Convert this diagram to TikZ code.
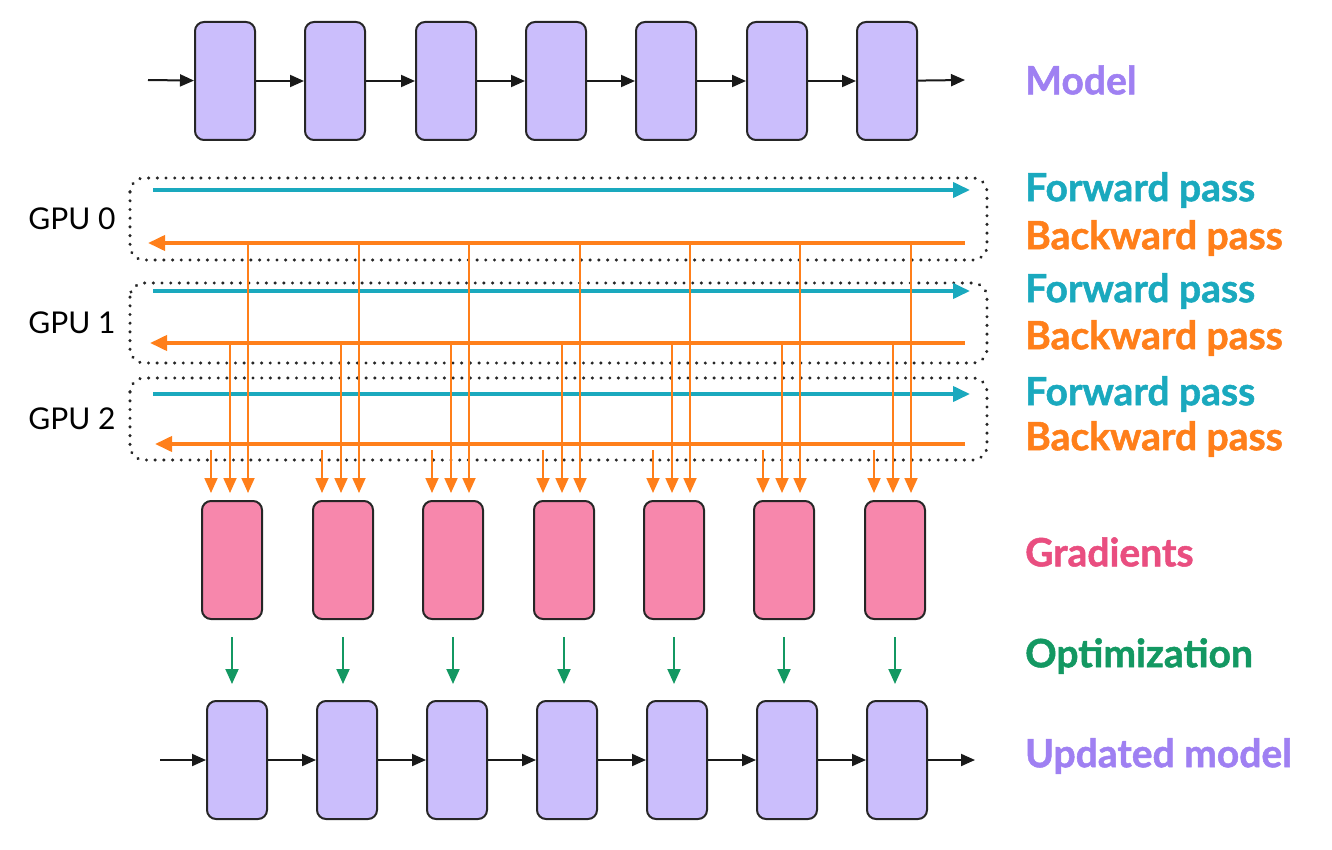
\documentclass[tikz,border=0pt]{standalone}
\usepackage{fontspec}
\setmainfont{Lato}
\newfontfamily\labfont{Lato}[FakeBold=1.3]
\usetikzlibrary{arrows.meta}
\definecolor{mpur}{HTML}{CBBEFC}
\definecolor{tpur}{HTML}{9F80F2}
\definecolor{fwd}{HTML}{1AA9BE}
\definecolor{bwd}{HTML}{FF7F1A}
\definecolor{gpink}{HTML}{F787AC}
\definecolor{tpink}{HTML}{E94E80}
\definecolor{ogreen}{HTML}{139862}
\tikzset{
 blk/.style={draw=black!85,line width=2pt,rounded corners=9pt,minimum width=60pt,minimum height=118pt,inner sep=0pt},
 mblk/.style={blk,fill=mpur},
 gblk/.style={blk,fill=gpink},
 carr/.style={-{Triangle[length=14pt,width=12pt]},line width=2pt,black!90},
 fa/.style={-{Triangle[length=17pt,width=15pt]},line width=3.8pt,fwd},
 ba/.style={-{Triangle[length=17pt,width=15pt]},line width=3.8pt,bwd},
 va/.style={-{Triangle[length=15pt,width=13pt]},line width=1.8pt,bwd},
 ga/.style={-{Triangle[length=15pt,width=13pt]},line width=1.9pt,ogreen},
 gpu/.style={draw=black!85,line width=3.2pt,dash pattern=on 0.2pt off 8.5pt,line cap=round,rounded corners=14pt},
 lab/.style={anchor=west,font=\labfont\bfseries\fontsize{39}{42}\selectfont,inner sep=0pt},
 glab/.style={font=\fontsize{30}{33}\selectfont,inner sep=0pt},
}
\begin{document}
\begin{tikzpicture}[x=1pt,y=-1pt]
\useasboundingbox (0,0) rectangle (1332,850);
% model
\coordinate (min) at (148,80);
\coordinate (mout) at (965,80);
\foreach \i/\x in {1/225,2/335,3/446,4/556,5/666,6/777,7/887}{
  \node[mblk] (m\i) at (\x,81) {};
}
\draw[carr] (min) -- (m1);
\foreach \i/\j in {1/2,2/3,3/4,4/5,5/6,6/7}{\draw[carr] (m\i) -- (m\j);}
\draw[carr] (m7) -- (mout);
\node[lab,text=tpur] (tm) at (1025,80) {Model};
% gpus
\foreach \g/\ya/\yb/\yf/\yw/\xs in {0/178/260/190/243/148,1/283/363/291/343/150,2/378/460/394/444/155}{
  \draw[gpu] (130,\ya) rectangle (987,\yb);
  \coordinate (f\g s) at (153,\yf); \coordinate (f\g e) at (970,\yf);
  \coordinate (b\g s) at (965,\yw); \coordinate (b\g e) at (\xs,\yw);
  \draw[fa] (f\g s) -- (f\g e);
  \draw[ba] (b\g s) -- (b\g e);
  \node[glab] (gl\g) at (72,{(\ya+\yb)/2}) {GPU \g};
  \node[lab,text=fwd] (tf\g) at (1025,\yf) {Forward pass};
  \node[lab,text=bwd] (tb\g) at (1025,\yw-5) {Backward pass};
}
% gradients
\foreach \i/\x in {1/232,2/343,3/453,4/564,5/674,6/784,7/895}{
  \node[gblk] (g\i) at (\x,560) {};
  \coordinate (v0\i) at (\x+16,243); \coordinate (v0\i e) at (\x+16,493);
  \coordinate (v1\i) at (\x-2,343); \coordinate (v1\i e) at (\x-2,493);
  \coordinate (v2\i) at (\x-21,450); \coordinate (v2\i e) at (\x-21,493);
  \draw[va] (v0\i) -- (v0\i e);
  \draw[va] (v1\i) -- (v1\i e);
  \draw[va] (v2\i) -- (v2\i e);
  \coordinate (o\i s) at (\x,637); \coordinate (o\i e) at (\x,684);
  \draw[ga] (o\i s) -- (o\i e);
}
\node[lab,text=tpink] (tg) at (1025,552) {Gradients};
\node[lab,text=ogreen] (to) at (1025,656) {Optimization};
% updated
\coordinate (uin) at (160,760);
\coordinate (uout) at (975,760);
\foreach \i/\x in {1/237,2/347,3/457,4/567,5/677,6/787,7/897}{
  \node[mblk] (u\i) at (\x,760) {};
}
\draw[carr] (uin) -- (u1);
\foreach \i/\j in {1/2,2/3,3/4,4/5,5/6,6/7}{\draw[carr] (u\i) -- (u\j);}
\draw[carr] (u7) -- (uout);
\node[lab,text=tpur] (tu) at (1025,756) {Updated model};
\end{tikzpicture}
\end{document}
